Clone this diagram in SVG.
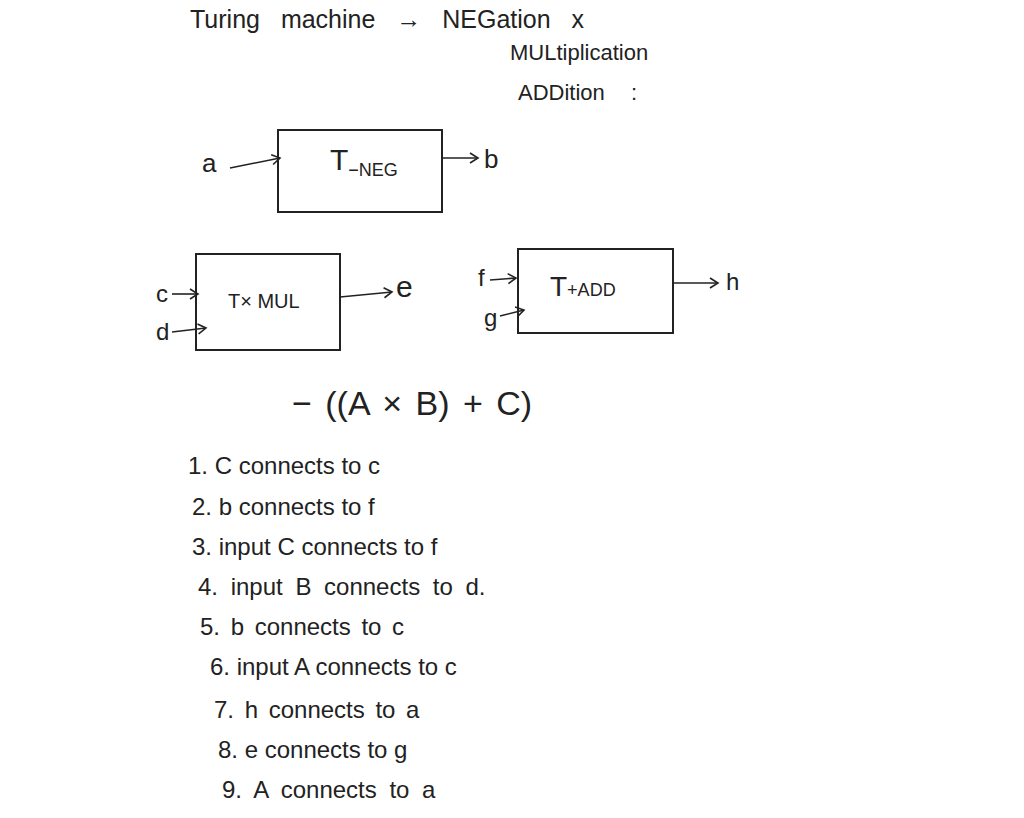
<svg xmlns="http://www.w3.org/2000/svg" width="1024" height="818" viewBox="0 0 1024 818">
<style>
text{font-family:"Liberation Sans",Arial,sans-serif;fill:#222}
.t{font-size:25px}
.s{font-size:24px}
.box{fill:none;stroke:#222;stroke-width:2}
.c{stroke:#222;stroke-width:1.6;fill:none}
</style>
<defs><marker id="a" markerWidth="12" markerHeight="12" refX="10" refY="6" orient="auto" markerUnits="userSpaceOnUse"><path d="M2,1 L10,6 L2,11" fill="none" stroke="#222" stroke-width="1.6"/></marker></defs>
<rect width="1024" height="818" fill="#fff"/>
<g id="title">
<text x="190" y="28" class="t" word-spacing="14">Turing machine → NEGation x</text>
<text x="510" y="60" font-size="22">MULtiplication</text>
<text x="518" y="100" font-size="22" word-spacing="20">ADDition :</text>
</g>
<g id="neg"><rect class="box" x="278" y="130" width="164" height="82"/><text x="330" y="170" font-size="30">T<tspan font-size="18" dy="6">−NEG</tspan></text></g>
<g id="mul"><rect class="box" x="196" y="254" width="144" height="96"/><text x="228" y="308" font-size="20">T× MUL</text></g>
<g id="add"><rect class="box" x="518" y="249" width="155" height="84"/><text x="550" y="296" font-size="28">T<tspan font-size="18">+ADD</tspan></text></g>
<g id="labels">
<text x="202" y="172" font-size="26">a</text><text x="484" y="168" font-size="26">b</text>
<text x="156" y="302" font-size="24">c</text><text x="156" y="340" font-size="24">d</text>
<text x="396" y="297" font-size="30">e</text>
<text x="478" y="286" font-size="24">f</text><text x="484" y="326" font-size="24">g</text>
<text x="726" y="290" font-size="24">h</text>
</g>
<g id="connectors">
<line class="c" x1="230" y1="168" x2="280" y2="158" marker-end="url(#a)"/>
<line class="c" x1="442" y1="158" x2="478" y2="158" marker-end="url(#a)"/>
<line class="c" x1="172" y1="294" x2="198" y2="294" marker-end="url(#a)"/>
<line class="c" x1="172" y1="332" x2="206" y2="328" marker-end="url(#a)"/>
<line class="c" x1="340" y1="297" x2="392" y2="292" marker-end="url(#a)"/>
<line class="c" x1="490" y1="280" x2="516" y2="278" marker-end="url(#a)"/>
<line class="c" x1="500" y1="316" x2="524" y2="310" marker-end="url(#a)"/>
<line class="c" x1="673" y1="283" x2="718" y2="283" marker-end="url(#a)"/>
</g>
<g id="expr"><text x="292" y="415" font-size="34" word-spacing="4">− ((A × B) + C)</text></g>
<g id="list" class="s">
<text x="188" y="474">1. C connects to c</text>
<text x="192" y="515">2.  b connects to f</text>
<text x="192" y="555">3. input C connects to f</text>
<text x="198" y="595" word-spacing="6">4. input B connects to d.</text>
<text x="200" y="635" word-spacing="4">5. b connects to c</text>
<text x="210" y="675">6. input A connects to c</text>
<text x="214" y="718" word-spacing="4">7. h connects to a</text>
<text x="218" y="758">8. e connects to g</text>
<text x="222" y="798" word-spacing="6">9. A connects to a</text>
</g>
</svg>
